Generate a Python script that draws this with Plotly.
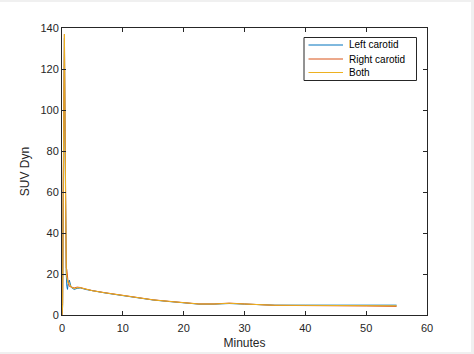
import plotly.graph_objects as go

minutes = [0.0, 0.1, 0.2, 0.3, 0.4, 0.5, 0.6, 0.7, 0.8, 0.9, 1.0, 1.2, 1.5, 2.0, 2.5, 3.0,
           4.0, 5.0, 7.0, 9.0, 11.0, 13.0, 15.0, 17.5, 20.0, 22.5, 25.0, 27.5, 30.0,
           32.5, 35.0, 40.0, 45.0, 50.0, 55.0]
left_carotid = [0.0, 4.0, 55.0, 125.0, 135.0, 85.0, 38.0, 20.0, 14.0, 12.5, 15.0, 17.0, 13.5, 12.5, 13.0, 13.2,
                12.4, 11.8, 10.8, 9.9, 9.0, 8.0, 7.3, 6.6, 5.9, 5.3, 5.3, 5.6, 5.3,
                5.0, 4.8, 4.8, 4.9, 4.8, 4.8]
right_carotid = [0.0, 6.0, 65.0, 133.0, 137.0, 95.0, 45.0, 23.0, 22.0, 19.0, 16.0, 14.0, 13.8, 13.2, 13.6, 13.4,
                 12.6, 11.9, 10.9, 10.0, 9.1, 8.1, 7.4, 6.7, 6.0, 5.4, 5.4, 5.8, 5.4,
                 5.0, 4.7, 4.6, 4.6, 4.4, 4.2]
both = [0.0, 5.0, 60.0, 130.0, 137.0, 90.0, 41.0, 21.5, 18.0, 15.5, 15.5, 15.5, 13.6, 12.9, 13.3, 13.3,
        12.5, 11.85, 10.85, 9.95, 9.05, 8.05, 7.35, 6.65, 5.95, 5.35, 5.35, 5.7, 5.35,
        5.0, 4.75, 4.7, 4.75, 4.6, 4.5]

series_names = ["Left carotid", "Right carotid", "Both"]
series_values = [left_carotid, right_carotid, both]
series_colors = ["#0072BD", "#D95319", "#EDB120"]

x_ticks = [0, 10, 20, 30, 40, 50, 60]
y_ticks = [0, 20, 40, 60, 80, 100, 120, 140]

# layout geometry (pixels)
W, H = 474, 354
ML, MR, MT, MB = 62, 47, 28, 39
PW, PH = W - ML - MR, H - MT - MB


def px(x):
    return (x - ML) / PW


def py(y):
    return (H - MB - y) / PH


fig = go.Figure()
for name, vals, col in zip(series_names, series_values, series_colors):
    fig.add_trace(go.Scatter(x=minutes, y=vals, mode="lines", name=name,
                             line=dict(color=col, width=1), showlegend=False))

axis_common = dict(showgrid=False, zeroline=False, showline=True, linecolor="#262626",
                   linewidth=1, mirror="ticks", ticks="inside", ticklen=4, automargin=False,
                   tickcolor="#262626", tickfont=dict(size=11, color="#262626"))
fig.update_xaxes(range=[0, 60], tickvals=x_ticks, ticklabelstandoff=3,
                 title=dict(text="Minutes", font=dict(size=12, color="#262626"), standoff=5),
                 **axis_common)
fig.update_yaxes(range=[0, 140], tickvals=y_ticks,
                 title=dict(text="SUV Dyn", font=dict(size=12, color="#262626"), standoff=8),
                 **axis_common)

shapes = []
# light gray outer frame of the figure image
shapes.append(dict(type="rect", xref="paper", yref="paper", layer="below",
                   x0=px(0), x1=px(471), y0=py(352), y1=py(2),
                   fillcolor="white", line=dict(width=0)))
# manual legend box
shapes.append(dict(type="rect", xref="paper", yref="paper",
                   x0=px(304), x1=px(416.5), y0=py(80.5), y1=py(37.5),
                   fillcolor="white", line=dict(color="#262626", width=1)))
annotations = []
row_y = [45, 59, 72.5]
for name, col, ry in zip(series_names, series_colors, row_y):
    shapes.append(dict(type="line", xref="paper", yref="paper",
                       x0=px(308.5), x1=px(343), y0=py(ry), y1=py(ry),
                       line=dict(color=col, width=1)))
    annotations.append(dict(xref="paper", yref="paper", x=px(347), y=py(ry),
                            xanchor="left", yanchor="middle", text=name, showarrow=False,
                            font=dict(size=10, color="#000000")))

fig.update_layout(
    width=W, height=H,
    margin=dict(l=ML, r=MR, t=MT, b=MB, autoexpand=False),
    paper_bgcolor="#f0f0f0", plot_bgcolor="white",
    font=dict(family="Liberation Sans, Arial, sans-serif"),
    shapes=shapes, annotations=annotations,
    showlegend=False,
)

fig.write_html("out.html")
